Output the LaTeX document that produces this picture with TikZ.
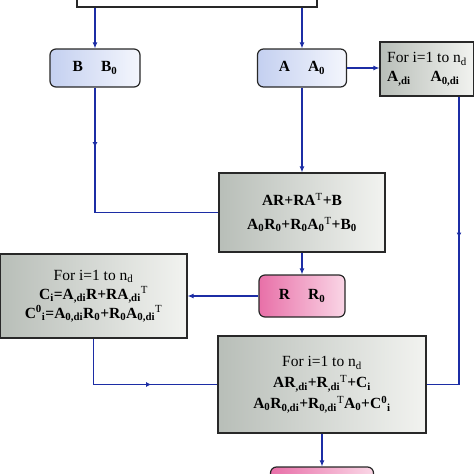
\documentclass[tikz,border=0pt]{standalone}
\usepackage{fontspec}
\setmainfont{Liberation Serif}
\usetikzlibrary{arrows.meta, positioning, decorations.markings}
\definecolor{flowblue}{RGB}{28,45,165}
\definecolor{boxline}{RGB}{40,40,40}
\definecolor{lightblue}{RGB}{196,208,240}
\definecolor{paleblue}{RGB}{244,246,253}
\definecolor{calcdark}{RGB}{184,190,184}
\definecolor{calclight}{RGB}{242,243,240}
\definecolor{pinkdark}{RGB}{232,112,168}
\definecolor{pinklight}{RGB}{250,214,230}

\tikzset{
  box/.style={rectangle, draw=boxline, line width=1.2pt, inner sep=3pt,
              font=\fontsize{15.5}{19}\selectfont, align=center},
  inbox/.style={box, rounded corners=6pt, left color=lightblue, right color=paleblue},
  calcbox/.style={box, left color=calcdark, right color=calclight},
  outbox/.style={box, rounded corners=6pt, left color=pinkdark, right color=pinklight},
  wire/.style={draw=flowblue, line width=1.1pt},
  flow/.style={wire, -{Latex[length=6pt,width=5pt]}},
  midflow/.style={wire, postaction={decorate},
    decoration={markings, mark=at position #1 with {\arrow{Latex[length=5pt,width=5pt]}}}}
}

\begin{document}
\begin{tikzpicture}[x=1pt, y=-1pt]
  \useasboundingbox (0,0) rectangle (474,474);

  % inputs
  \node[box, fill=white, minimum width=240pt, minimum height=40pt] (top) at (197,-13) {};
  \node[inbox, minimum width=90pt, minimum height=38pt] (B) at (95,68)
    {\textbf{B}\hspace{18pt}\textbf{B\textsubscript{0}}};
  \node[inbox, minimum width=89pt, minimum height=38pt] (A) at (302,68)
    {\textbf{A}\hspace{18pt}\textbf{A\textsubscript{0}}};
  \node[calcbox, align=left, inner sep=2pt, minimum width=94pt, minimum height=54pt] (Adi) at (427,69)
    {For i=1 to n\textsubscript{d}\\
     \textbf{A\textsubscript{,di}}\hspace{20pt}\textbf{A\textsubscript{0,di}}};

  % Lyapunov step
  \node[calcbox, minimum width=166pt, minimum height=79pt] (Lyap) at (302,212.5)
    {\textbf{AR+RA}\textsuperscript{T}\textbf{+B}\\[5pt]
     \textbf{A\textsubscript{0}R\textsubscript{0}+R\textsubscript{0}A\textsubscript{0}}\textsuperscript{T}\textbf{+B\textsubscript{0}}};
  \node[outbox, minimum width=86pt, minimum height=42pt] (R) at (302,296)
    {\textbf{R}\hspace{18pt}\textbf{R\textsubscript{0}}};

  % derivative steps
  \node[calcbox, minimum width=187pt, minimum height=84pt] (Ci) at (93.5,296)
    {For i=1 to n\textsubscript{d}\\
     \textbf{C\textsubscript{i}=A\textsubscript{,di}R+RA\textsubscript{,di}}\textsuperscript{T}\\
     \textbf{C\textsuperscript{0}\textsubscript{i}=A\textsubscript{0,di}R\textsubscript{0}+R\textsubscript{0}A\textsubscript{0,di}}\textsuperscript{T}};
  \node[calcbox, minimum width=208pt, minimum height=97pt] (Rdi) at (322,384.5)
    {For i=1 to n\textsubscript{d}\\[2pt]
     \textbf{AR\textsubscript{,di}+R\textsubscript{,di}}\textsuperscript{T}\textbf{+C\textsubscript{i}}\\[2pt]
     \textbf{A\textsubscript{0}R\textsubscript{0,di}+R\textsubscript{0,di}}\textsuperscript{T}\textbf{A\textsubscript{0}+C\textsuperscript{0}\textsubscript{i}}};
  \node[outbox, minimum width=103pt, minimum height=42pt] (Rout) at (322,488) {};

  % connectors
  \draw[flow] (top.south -| B) -- (B);
  \draw[flow] (top.south -| A) -- (A);
  \draw[flow] (A.east) -- (A.east -| Adi.west);
  \draw[midflow=0.24] (B) |- (Lyap);
  \draw[flow] (A) -- (Lyap);
  \draw[midflow=0.44] ([xshift=32pt]Adi.south) |- (Rdi.east);
  \draw[flow] (Lyap) -- (R);
  \draw[flow] (R) -- (Ci);
  \draw[midflow=0.61] (Ci) |- (Rdi);
  \draw[flow] (Rdi) -- (Rout);
\end{tikzpicture}
\end{document}
